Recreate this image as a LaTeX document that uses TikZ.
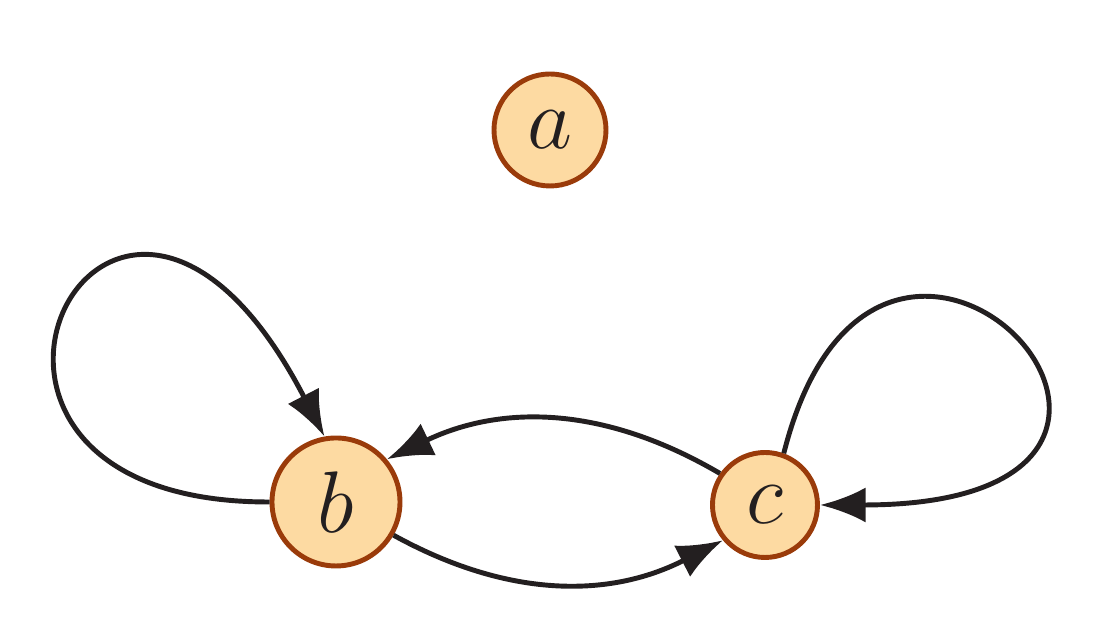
\documentclass[tikz,border=0pt]{standalone}
\usetikzlibrary{arrows.meta}
\definecolor{nfill}{HTML}{FDDAA2}
\definecolor{ndraw}{HTML}{9A3B0A}
\definecolor{edge}{HTML}{231F20}
\begin{document}
\begin{tikzpicture}
\useasboundingbox (0,0) rectangle (11.13,6.42);
\tikzset{vert/.style={circle,draw=ndraw,fill=nfill,line width=1.4pt,inner sep=0pt,font=\fontsize{30}{30}\selectfont\itshape,text=edge},
 edg/.style={draw=edge,line width=1.4pt,-{Latex[length=13pt,width=10pt]}}}
\node[vert,minimum size=1.12cm] (a) at (5.50,5.12) {$a$};
\node[vert,minimum size=1.28cm] (b) at (3.36,1.40) {$b$};
\node[vert,minimum size=1.05cm] (c) at (7.65,1.37) {$c$};
\draw[edg] (b.west) .. controls (-1.3,1.39) and (1.1,6.2) .. (b.100);
\draw[edg] (c.70) .. controls (8.8,5.7) and (12.8,1.37) .. (c.east);
\draw[edg] (c.145) to[bend right=28] (b.40);
\draw[edg] (b.-30) to[bend right=28] (c.-140);
\end{tikzpicture}
\end{document}
